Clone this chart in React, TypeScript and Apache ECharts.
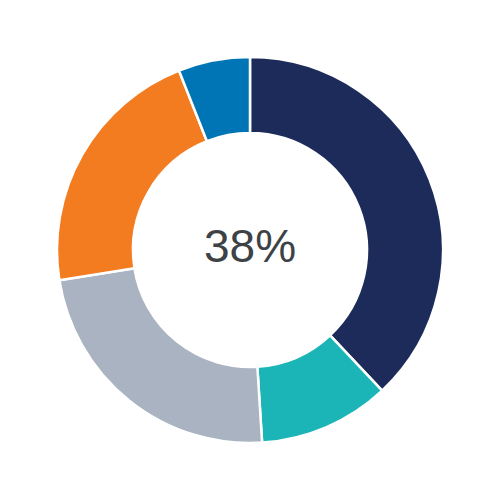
import React, { useEffect, useRef } from 'react';
import * as echarts from 'echarts';

const categories = ['A', 'B', 'C', 'D', 'E'];
const values = [38, 11, 23.5, 21.5, 6];
const colors = ['#1c2b5a', '#1bb5b7', '#a9b3c1', '#f47c20', '#0075b5'];
const centerLabel = '38%';

const App: React.FC = () => {
  const chartRef = useRef<HTMLDivElement>(null);

  useEffect(() => {
    if (!chartRef.current) return;
    const chart = echarts.init(chartRef.current, undefined, { renderer: 'svg' });

    chart.setOption({
      animation: false,
      backgroundColor: '#ffffff',
      title: {
        text: centerLabel,
        left: 'center',
        top: 218,
        textStyle: {
          fontFamily: 'Liberation Sans, Arial, sans-serif',
          fontSize: 46,
          fontWeight: 'normal',
          color: '#3d4246'
        }
      },
      series: [
        {
          type: 'pie',
          center: [250, 250],
          radius: [117, 193],
          startAngle: 90,
          clockwise: true,
          label: { show: false },
          labelLine: { show: false },
          itemStyle: { borderColor: '#ffffff', borderWidth: 2.5 },
          emphasis: { disabled: true },
          data: categories.map((name, i) => ({
            name,
            value: values[i],
            itemStyle: { color: colors[i] }
          }))
        }
      ]
    });

    return () => chart.dispose();
  }, []);

  return (
    <div
      ref={chartRef}
      style={{ position: 'fixed', left: 0, top: 0, width: 500, height: 500 }}
    />
  );
};

export default App;
